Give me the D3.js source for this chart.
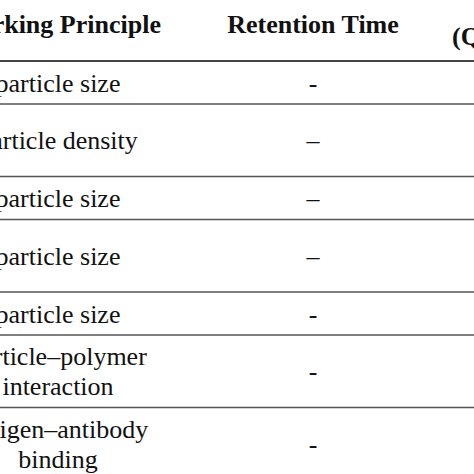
<!DOCTYPE html>
<html>
<head>
<meta charset="utf-8">
<script src="https://cdn.jsdelivr.net/npm/d3@7"></script>
<style>
  body { margin: 0; background: #fff; overflow: hidden; }
  svg { display: block; }
</style>
</head>
<body>
<svg id="table" width="474" height="474"></svg>
<script>
// table content (columns cropped at the edges)
var headers = ["Working Principle", "Retention Time"];
var principles = [
  ["particle size"],
  ["particle density"],
  ["particle size"],
  ["particle size"],
  ["particle size"],
  ["particle\u2013polymer", "interaction"],
  ["antigen\u2013antibody", "binding"]
];
var retention = ["-", "\u2013", "\u2013", "\u2013", "-", "-", "-"];
// how many text lines each row is sized for (other columns are cut off)
var rowLines = [1, 2, 1, 2, 1, 2, 2];

var svg = d3.select("#table");
var font = "'Liberation Serif', 'DejaVu Serif', serif";

var headerBottom = 61;
var rowHeight = d3.scaleLinear().domain([1, 2]).range([43, 72.5]);
var tops = [headerBottom];
rowLines.forEach(function(n, i) { tops.push(tops[i] + rowHeight(n)); });

var colX = d3.scaleOrdinal().domain([0, 1, 2]).range([58, 313, 452]);

// header
svg.selectAll("text.head")
  .data(headers)
  .enter().append("text")
  .attr("class", "head")
  .attr("x", function(d, i) { return colX(i); })
  .attr("y", 33)
  .attr("text-anchor", "middle")
  .style("font-family", font)
  .style("font-weight", "bold")
  .style("font-size", "26px")
  .attr("fill", "#111")
  .text(function(d) { return d; });

svg.append("text")
  .attr("x", colX(2))
  .attr("y", 45)
  .style("font-family", font)
  .style("font-weight", "bold")
  .style("font-size", "26px")
  .attr("fill", "#111")
  .text("(Quantity)");

// rules
svg.append("line")
  .attr("x1", 0).attr("x2", 474)
  .attr("y1", headerBottom).attr("y2", headerBottom)
  .attr("stroke", "#444").attr("stroke-width", 2);

svg.selectAll("line.rule")
  .data(tops.slice(1))
  .enter().append("line")
  .attr("class", "rule")
  .attr("x1", 0).attr("x2", 474)
  .attr("y1", function(d) { return d; })
  .attr("y2", function(d) { return d; })
  .attr("stroke", "#555").attr("stroke-width", 1.5);

// rows
var rows = svg.selectAll("g.row")
  .data(principles)
  .enter().append("g")
  .attr("class", "row");

rows.each(function(lines, i) {
  var g = d3.select(this);
  var mid = (tops[i] + tops[i + 1]) / 2;
  var lh = 30;
  var start = mid - (lines.length - 1) * lh / 2;
  lines.forEach(function(t, j) {
    g.append("text")
      .attr("x", colX(0))
      .attr("y", start + j * lh)
      .attr("dy", "0.35em")
      .attr("text-anchor", "middle")
      .style("font-family", font)
      .style("font-size", "26px")
      .attr("fill", "#111")
      .text(t);
  });
  g.append("text")
    .attr("x", colX(1))
    .attr("y", mid)
    .attr("dy", "0.35em")
    .attr("text-anchor", "middle")
    .style("font-family", font)
    .style("font-size", "26px")
    .attr("fill", "#111")
    .text(retention[i]);
});
</script>
</body>
</html>
